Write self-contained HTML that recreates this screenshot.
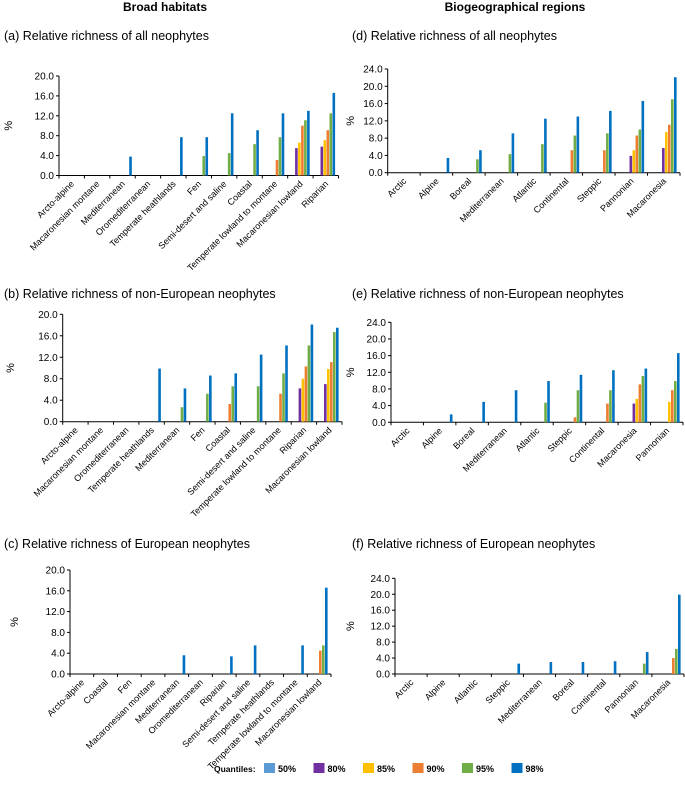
<!DOCTYPE html>
<html><head><meta charset="utf-8"><style>
body{margin:0;background:#fff;font-family:"Liberation Sans",Arial,sans-serif}
svg{display:block}
</style></head><body>
<svg id="chart" width="685" height="803" xmlns="http://www.w3.org/2000/svg" font-family="Liberation Sans, Arial, sans-serif"></svg>
<script>
const seriesNames=["50%","80%","85%","90%","95%","98%"];
const seriesColors=["#5b9bd5","#7030a0","#ffc000","#ed7d31","#70ad47","#0070c0"];

const catsA=["Arcto-alpine","Macaronesian montane","Mediterranean","Oromediterranean","Temperate heathlands","Fen","Semi-desert and saline","Coastal","Temperate lowland to montane","Macaronesian lowland","Riparian"];
const valsA=[[0,0,0,0,0,0],[0,0,0,0,0,0],[0,0,0,0,0,3.8],[0,0,0,0,0,0],[0,0,0,0,0,7.7],[0,0,0,0,3.9,7.7],[0,0,0,0,4.5,12.5],[0,0,0,0,6.3,9.1],[0,0,0,3.1,7.7,12.5],[0,5.5,6.6,10,11.1,13],[0,5.8,7.1,9.1,12.5,16.6]];
const catsB=["Arcto-alpine","Macaronesian montane","Oromediterranean","Temperate heathlands","Mediterranean","Fen","Coastal","Semi-desert and saline","Temperate lowland to montane","Riparian","Macaronesian lowland"];
const valsB=[[0,0,0,0,0,0],[0,0,0,0,0,0],[0,0,0,0,0,0],[0,0,0,0,0,9.9],[0,0,0,0,2.7,6.2],[0,0,0,0,5.2,8.6],[0,0,0,3.3,6.6,9.0],[0,0,0,0,6.6,12.5],[0,0,0,5.2,9.0,14.2],[0,6.2,8.0,10.3,14.2,18.1],[0,7.0,9.8,11.1,16.7,17.5]];
const catsC=["Arcto-alpine","Coastal","Fen","Macaronesian montane","Mediterranean","Oromediterranean","Riparian","Semi-desert and saline","Temperate heathlands","Temperate lowland to montane","Macaronesian lowland"];
const valsC=[[0,0,0,0,0,0],[0,0,0,0,0,0],[0,0,0,0,0,0],[0,0,0,0,0,0],[0,0,0,0,0,3.6],[0,0,0,0,0,0],[0,0,0,0,0,3.4],[0,0,0,0,0,5.5],[0,0,0,0,0,0],[0,0,0,0,0,5.5],[0,0,0,4.5,5.5,16.6]];
const catsD=["Arctic","Alpine","Boreal","Mediterranean","Atlantic","Continental","Steppic","Pannonian","Macaronesia"];
const valsD=[[0,0,0,0,0,0],[0,0,0,0,0,3.4],[0,0,0,0,3.1,5.2],[0,0,0,0,4.3,9.1],[0,0,0,0,6.6,12.5],[0,0,0,5.2,8.6,13.0],[0,0,0,5.2,9.1,14.3],[0,3.9,5.2,8.6,10,16.6],[0,5.7,9.4,11.1,17,22.1]];
const catsE=["Arctic","Alpine","Boreal","Mediterranean","Atlantic","Steppic","Continental","Macaronesia","Pannonian"];
const valsE=[[0,0,0,0,0,0],[0,0,0,0,0,1.9],[0,0,0,0,0,4.9],[0,0,0,0,0,7.7],[0,0,0,0,4.7,9.9],[0,0,0,1.2,7.7,11.4],[0,0,0,4.5,7.7,12.5],[0,4.5,5.6,9.1,11.1,12.9],[0,0,4.9,7.7,9.9,16.6]];
const catsF=["Arctic","Alpine","Atlantic","Steppic","Mediterranean","Boreal","Continental","Pannonian","Macaronesia"];
const valsF=[[0,0,0,0,0,0],[0,0,0,0,0,0],[0,0,0,0,0,0],[0,0,0,0,0,2.6],[0,0,0,0,0,3.0],[0,0,0,0,0,3.0],[0,0,0,0,0,3.2],[0,0,0,0,2.6,5.5],[0,0,0,4.0,6.3,19.9]];
const ticks20=["0.0","4.0","8.0","12.0","16.0","20.0"];
const ticks24=["0.0","4.0","8.0","12.0","16.0","20.0","24.0"];

const NS="http://www.w3.org/2000/svg";
const svg=document.getElementById('chart');
function mk(tag,attrs,parent){const e=document.createElementNS(NS,tag);for(const k in attrs)e.setAttribute(k,attrs[k]);(parent||svg).appendChild(e);return e;}
function txt(s,attrs,parent){const t=mk('text',attrs,parent);t.textContent=s;return t;}

function panel(id,title,cats,vals,ticks,x0,x1,yTop,yBot,titleY,pctX){
  const g=mk('g',{});
  
  
  const tt=txt(title,{x:id<'d'?4:352,y:titleY,'font-size':12.5,fill:'#000'},g);
  
  
  const maxV=parseFloat(ticks[ticks.length-1]);
  const y=v=>yBot-(v/maxV)*(yBot-yTop);
  const cw=(x1-x0)/cats.length;
  mk('line',{x1:x0,y1:yTop,x2:x0,y2:yBot,stroke:'#000','stroke-width':1},g);
  mk('line',{x1:x0,y1:yBot,x2:x1,y2:yBot,stroke:'#000','stroke-width':1},g);
  ticks.forEach((t,i)=>{
    const v=parseFloat(t),yy=y(v);
    mk('line',{x1:x0-3,y1:yy,x2:x0,y2:yy,stroke:'#000'},g);
    const l=txt(t,{x:x0-5,y:yy+3.5,'font-size':10,'text-anchor':'end',fill:'#000'},g);
    
    
  });
  const p=txt('%',{x:0,y:0,'font-size':11,'text-anchor':'middle',transform:`translate(${pctX},${(yTop+yBot)/2}) rotate(-90)`},g);
  
  
  for(let i=0;i<=cats.length;i++){const xx=x0+i*cw;mk('line',{x1:xx,y1:yBot,x2:xx,y2:yBot+3,stroke:'#000'},g);}
  const bw=3;
  cats.forEach((c,i)=>{
    const right=x0+(i+1)*cw-3;
    vals[i].forEach((v,s)=>{
      if(v<=0)return;
      const bx=right-(6-s)*bw;
      const r=mk('rect',{x:bx,y:y(v),width:bw-0.4,height:yBot-y(v),fill:seriesColors[s]},g);
      
      
    });
    const cx=x0+(i+0.5)*cw+3;
    const l=txt(c,{x:0,y:0,'font-size':9,'text-anchor':'end',transform:`translate(${cx},${yBot+9}) rotate(-45)`},g);
    
    
  });
}
const h1=txt('Broad habitats',{x:165,y:11,'font-size':12,'font-weight':'bold','text-anchor':'middle'});


const h2=txt('Biogeographical regions',{x:515,y:11,'font-size':12,'font-weight':'bold','text-anchor':'middle'});



panel('a','(a) Relative richness of all neophytes',catsA,valsA,ticks20,59,338.5,76,175.5,40,12);
panel('b','(b) Relative richness of non-European neophytes',catsB,valsB,ticks20,62.7,342,314.3,421.7,298,14);
panel('c','(c) Relative richness of European neophytes',catsC,valsC,ticks20,70,331,570,674,548,18);
panel('d','(d) Relative richness of all neophytes',catsD,valsD,ticks24,387.7,680,69,172.7,40,354);
panel('e','(e) Relative richness of non-European neophytes',catsE,valsE,ticks24,391,683,322.3,422.3,298,354);
panel('f','(f) Relative richness of European neophytes',catsF,valsF,ticks24,395,684,578.3,674,548,354);

const lg=mk('g',{});


txt('Quantiles:',{x:214,y:772,'font-size':8.5,'font-weight':'bold'},lg);
seriesNames.forEach((n,i)=>{
  const lx=264+i*49.5;
  const r=mk('rect',{x:lx,y:763,width:11,height:10,fill:seriesColors[i]},lg);
  
  
  const t=txt(n,{x:lx+14,y:772,'font-size':9,'font-weight':'bold'},lg);
  
  
});
</script>
</body></html>
